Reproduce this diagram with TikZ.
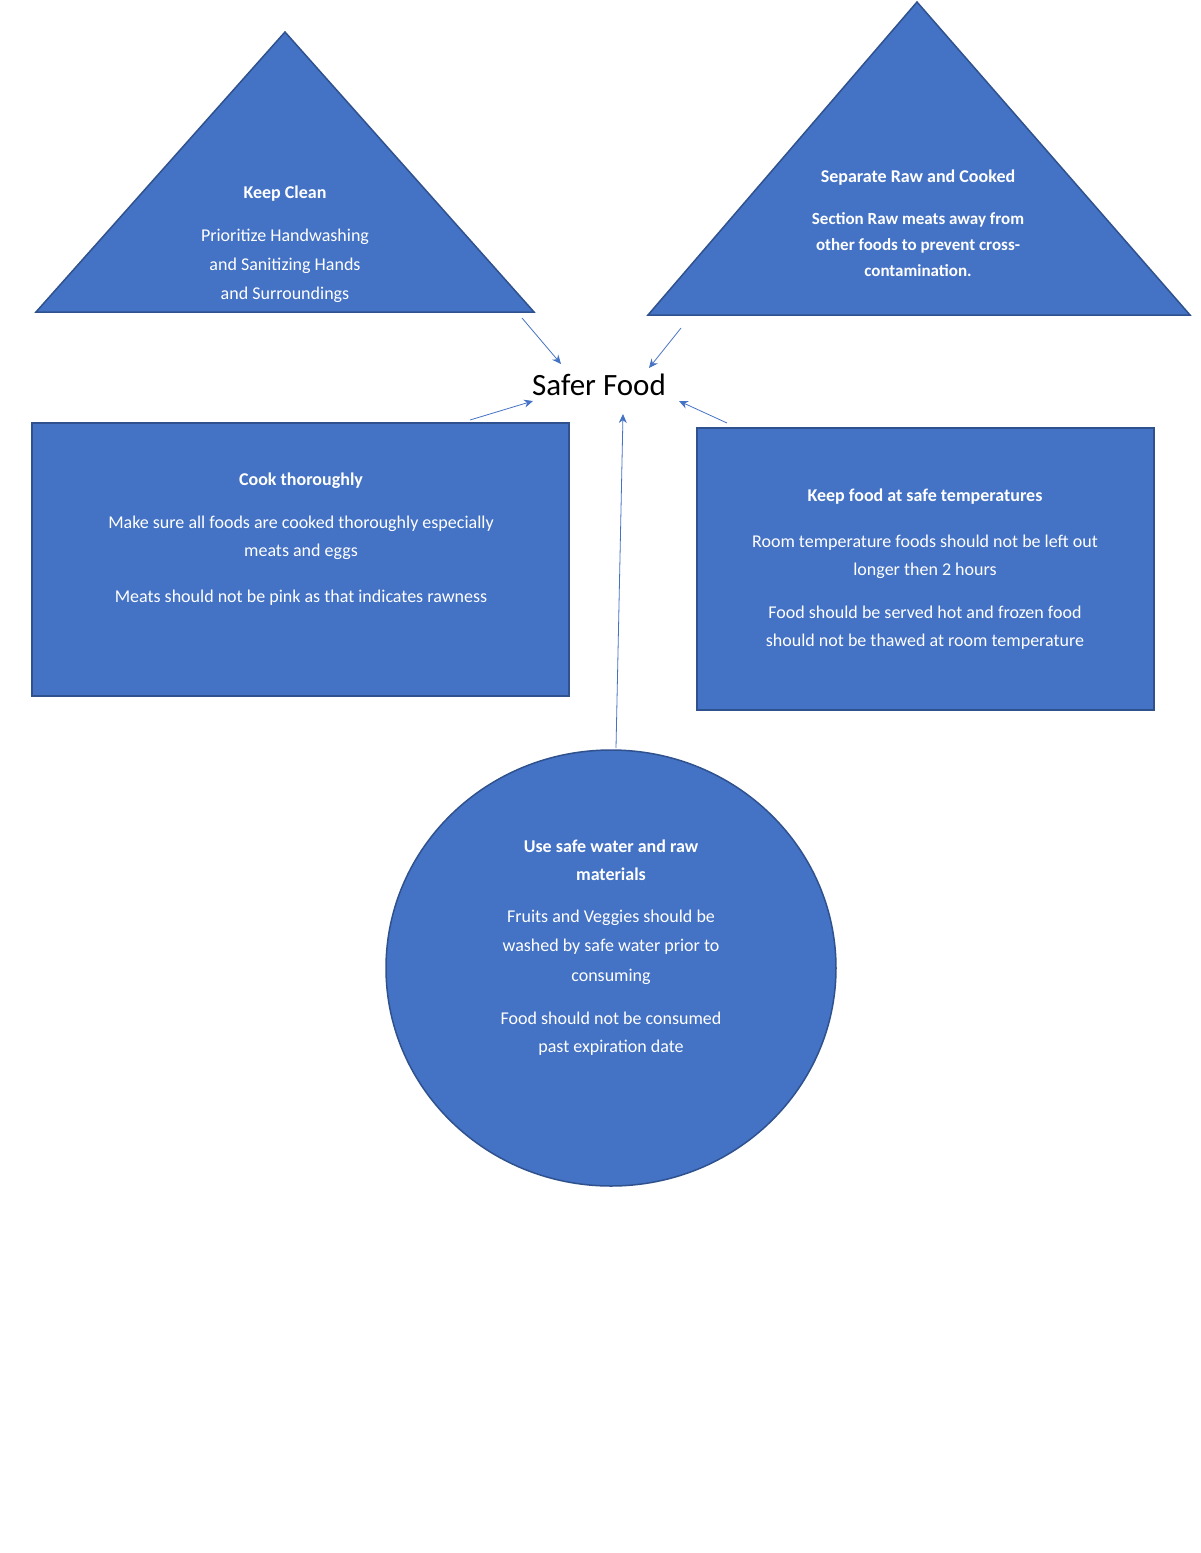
\documentclass[tikz,border=0pt]{standalone}
\usepackage{fontspec}
\setmainfont{Carlito}
\usetikzlibrary{arrows.meta}
\definecolor{fillb}{HTML}{4472C4}
\definecolor{edgeb}{HTML}{2F528F}
\begin{document}
\begin{tikzpicture}[x=1pt,y=-1pt,
  shp/.style={fill=fillb,draw=edgeb,line width=1.5pt},
  txt/.style={text=white,align=center,font=\fontsize{18}{28}\selectfont},
  ttl/.style={text=white,align=center,font=\bfseries\fontsize{18}{28}\selectfont},
  arr/.style={draw=fillb,line width=0.8pt,-{Stealth[length=9pt,width=8pt]}}]
\useasboundingbox (0,0) rectangle (1200,1553);
% shapes
\draw[shp] (285,32) -- (534,312) -- (36,312) -- cycle;
\draw[shp] (917,2) -- (1190,315) -- (648,315) -- cycle;
\draw[shp] (32,423) rectangle (569,696);
\draw[shp] (697,428) rectangle (1154,710);
\draw[shp] (611,968) ellipse [x radius=225,y radius=218];
% texts
\node[ttl] (kct) at (285,194) {Keep Clean};
\node[txt,font=\fontsize{18}{29}\selectfont] (kcb) at (285,266) {Prioritize Handwashing\\and Sanitizing Hands\\and Surroundings};
\node[ttl,font=\bfseries\fontsize{18}{26}\selectfont] (srt) at (918,178) {Separate Raw and Cooked};
\node[ttl,font=\bfseries\fontsize{17}{26}\selectfont] (srb) at (918,245) {Section Raw meats away from\\other foods to prevent cross-\\contamination.};
\node[ttl] (ctt) at (301,481) {Cook thoroughly};
\node[txt] (ctb) at (301,538) {Make sure all foods are cooked thoroughly especially\\meats and eggs};
\node[txt] (ctc) at (301,598) {Meats should not be pink as that indicates rawness};
\node[ttl] (kft) at (925,497) {Keep food at safe temperatures};
\node[txt] (kfb) at (925,557) {Room temperature foods should not be left out\\longer then 2 hours};
\node[txt] (kfc) at (925,628) {Food should be served hot and frozen food\\should not be thawed at room temperature};
\node[ttl] (uwt) at (611,860) {Use safe water and raw\\materials};
\node[txt,font=\fontsize{18}{29.5}\selectfont] (uwb) at (611,947) {Fruits and Veggies should be\\washed by safe water prior to\\consuming};
\node[txt] (uwc) at (611,1034) {Food should not be consumed\\past expiration date};
\node[font=\fontsize{31}{36}\selectfont] (sf) at (599,385) {Safer Food};
% connectors
\coordinate (a1) at (522,318); \coordinate (b1) at (561,364);
\coordinate (a2) at (681,328); \coordinate (b2) at (649,368);
\coordinate (a3) at (470,420); \coordinate (b3) at (533,401);
\coordinate (a4) at (727,423); \coordinate (b4) at (679,401);
\coordinate (a5) at (616,748); \coordinate (b5) at (623,414);
\draw[arr] (a1) -- (b1);
\draw[arr] (a2) -- (b2);
\draw[arr] (a3) -- (b3);
\draw[arr] (a4) -- (b4);
\draw[arr] (a5) -- (b5);
\end{tikzpicture}
\end{document}
